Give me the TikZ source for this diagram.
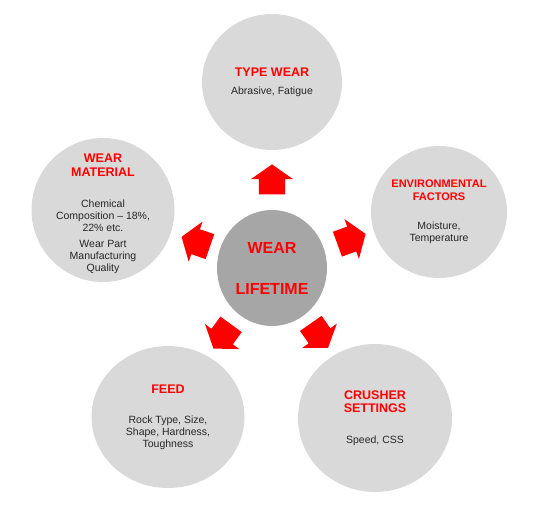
\documentclass[tikz,border=0pt]{standalone}
\usepackage{fontspec}
\setmainfont{Liberation Sans}
\usetikzlibrary{positioning, calc, shapes.geometric, shapes.arrows}
\definecolor{wearred}{HTML}{FF0000}
\definecolor{bubblegray}{HTML}{D9D9D9}
\definecolor{hubgray}{HTML}{A6A6A6}
\newcommand{\ttl}[2][12.5]{{\color{wearred}\bfseries\fontsize{#1}{13}\selectfont #2}}

\begin{document}
\begin{tikzpicture}[x=1pt,y=1pt,
    bubble/.style={ellipse,fill=bubblegray,inner sep=0pt},
    bubbletext/.style={align=center,inner sep=0pt,text=black!85,font=\fontsize{10.5}{12}\selectfont},
    outarrow/.style={single arrow,fill=wearred,inner xsep=0pt,inner ysep=13pt,minimum height=30pt,single arrow head extend=8pt,single arrow tip angle=110}]
    \useasboundingbox (0,0) rectangle (538,520);
    % centre
    \node[bubble,fill=hubgray,minimum width=110pt,minimum height=116pt] (hub) at (272,252) {};
    \node[align=center,inner sep=0pt,text=wearred,font=\bfseries\fontsize{16}{19}\selectfont] (hub-text) at (hub) {WEAR\\[22pt]LIFETIME};
    % factors round it
    \node[bubble,minimum width=140pt,minimum height=136pt] (type) at (272,438) {};
    \node[bubbletext] (type-text) at (type) {\ttl{TYPE WEAR}\\[6pt]Abrasive, Fatigue};
    \node[bubble,minimum width=143pt,minimum height=144pt] (material) at (103,310) {};
    \node[bubbletext] (material-text) at ([yshift=-4pt]material) {\ttl{WEAR}\\[2pt]\ttl{MATERIAL}\\[19pt]Chemical\\Composition – 18\%,\\22\% etc.\\[4pt]Wear Part\\Manufacturing\\Quality};
    \node[bubble,minimum width=136pt,minimum height=132pt] (env) at (439,308) {};
    \node[bubbletext] (env-text) at (env) {\ttl[11]{ENVIRONMENTAL}\\[1pt]\ttl[11]{FACTORS}\\[17pt]Moisture,\\Temperature};
    \node[bubble,minimum width=153pt,minimum height=142pt] (feed) at (168,103) {};
    \node[bubbletext] (feed-text) at (feed) {\ttl{FEED}\\[18pt]Rock Type, Size,\\Shape, Hardness,\\Toughness};
    \node[bubble,minimum width=154pt,minimum height=148pt] (crusher) at (375,102) {};
    \node[bubbletext] (crusher-text) at (crusher) {\ttl{CRUSHER}\\[1pt]\ttl{SETTINGS}\\[19pt]Speed, CSS};
    % arrows
    \foreach \ang/\dist [count=\i] in {90/84,20/80,305/78,234/80,161/76}
        \node[outarrow,rotate=\ang] (arr\i) at ($(hub)+(\ang:\dist)$) {};
\end{tikzpicture}
\end{document}
